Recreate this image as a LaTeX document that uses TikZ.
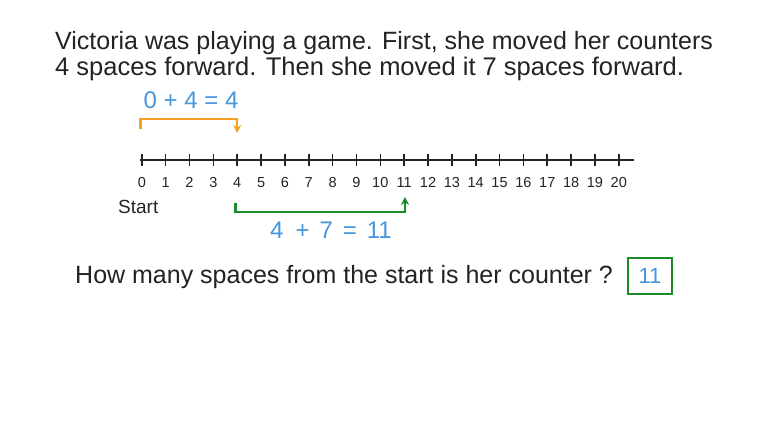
\documentclass[tikz,border=0pt]{standalone}
\usepackage{fontspec}
\setmainfont{Liberation Sans}
\usetikzlibrary{arrows.meta,calc}
\definecolor{ink}{RGB}{35,35,35}
\definecolor{eqblue}{RGB}{70,150,220}
\definecolor{jumporange}{RGB}{245,160,35}
\definecolor{jumpgreen}{RGB}{25,140,40}
\tikzset{
  txt/.style={text=ink, inner sep=0pt, anchor=west},
  eq/.style={text=eqblue, inner sep=0pt, font=\fontsize{24}{28}\selectfont},
  numlab/.style={text=ink, inner sep=0pt, anchor=base, font=\fontsize{14.5}{17}\selectfont},
  tickmark/.style={ink, line width=1.6pt},
  jump/.style={line width=2.2pt, -{Stealth[length=8pt,width=8pt]}},
}
\begin{document}
\begin{tikzpicture}[x=1pt,y=-1pt]
\useasboundingbox (0,0) rectangle (760,427);
\fill[white] (0,0) rectangle (760,427);
% title
\node[txt, font=\fontsize{25}{29}\selectfont] (l1) at (55,43) {Victoria was playing a game. First, she moved her counters};
\node[txt, font=\fontsize{25.5}{29}\selectfont] (l2) at (55,69) {4 spaces forward. Then she moved it 7 spaces forward.};
% number line
\coordinate (nl0) at (140,160);
\coordinate (nlend) at (634,160);
\draw[ink, line width=2pt] (nl0) -- (nlend);
\foreach \i in {0,...,20} {
  \coordinate (t\i) at ({141.8+23.85*\i},160);
  \draw[tickmark] ($(t\i)+(0,-6)$) -- ($(t\i)+(0,6)$);
  \node[numlab] (n\i) at ({141.8+23.85*\i},188) {\i};
}
\node[txt, font=\fontsize{19}{22}\selectfont] (start) at (118,207) {Start};
% orange jump
\coordinate (oa) at (140.5,129);
\coordinate (ob) at (140.5,119);
\coordinate (oc) at (237.2,119);
\coordinate (od) at (237.2,133);
\draw[jump, jumporange] (oa) -- (ob) -- (oc) -- (od);
\node[eq] (eq1) at (191,100) {0 + 4 = 4};
% green jump
\coordinate (ga) at (235.5,203);
\coordinate (gb) at (235.5,212);
\coordinate (gc) at (405,212);
\coordinate (gd) at (405,197);
\draw[jump, jumpgreen] (ga) -- (gb) -- (gc) -- (gd);
\node[eq] (eq2) at (331,230) {4\hspace{12pt}+\hspace{10pt}7\hspace{10pt}=\hspace{10pt}11};
% question
\node[txt, font=\fontsize{25}{29}\selectfont] (q) at (75,277) {How many spaces from the start is her counter ?};
\node[draw=jumpgreen, line width=2pt, minimum width=44pt, minimum height=36pt, text=eqblue, font=\fontsize{22}{26}\selectfont] (ans) at (650,276) {11};
\end{tikzpicture}
\end{document}
